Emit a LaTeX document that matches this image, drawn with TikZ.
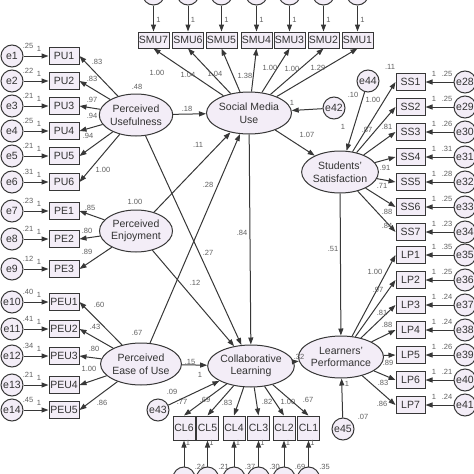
\documentclass[tikz,border=0pt]{standalone}
\usepackage{fontspec}
\setmainfont{Liberation Sans}
\usetikzlibrary{arrows.meta, shapes.geometric}
\definecolor{semfill}{RGB}{243,237,247}
\definecolor{semline}{RGB}{55,55,55}
\definecolor{semtext}{RGB}{95,95,95}
\tikzset{
    latent/.style = {ellipse, draw=semline, fill=semfill, line width=1pt, minimum width=73pt, minimum height=42pt, inner sep=0pt, align=center, font=\fontsize{10.5}{12.5}\selectfont, text=black!80},
    indicator/.style = {rectangle, draw=semline, fill=semfill, line width=1pt, minimum width=30pt, minimum height=17pt, inner sep=0.5pt, font=\fontsize{10.5}{12}\selectfont, text=black!80},
    clbox/.style = {indicator, minimum width=22pt, minimum height=24pt},
    errterm/.style = {circle, draw=semline, fill=semfill, line width=1pt, minimum size=22pt, inner sep=0pt, font=\fontsize{10.5}{12}\selectfont, text=black!80},
    coef/.style = {font=\fontsize{7.5}{8}\selectfont, text=semtext, inner sep=0pt},
    arrow/.style = {semline, line width=1pt, -{Triangle[length=7pt,width=5pt]}}
}

\begin{document}
\begin{tikzpicture}[x=1pt, y=-1pt]
\useasboundingbox (0,0) rectangle (474,474);
\clip (0,0) rectangle (474,474);

% ---- Latent variables ----
\node[latent] (pu)  at (136,115) {Perceived\\Usefulness};
\node[latent] (pe)  at (136,231) {Perceived\\Enjoyment};
\node[latent] (peu) at (141,364) {Perceived\\Ease of Use};
\node[latent] (smu) at (249,113) {Social Media\\Use};
\node[latent] (ss)  at (340,172) {Students'\\Satisfaction};
\node[latent] (cl)  at (251,366) {Collaborative\\Learning};
\node[latent] (lp)  at (341,357) {Learners'\\Performance};

\node[coef] at (137,87)  {.48};
\node[coef] at (135,202) {1.00};
\node[coef] at (137,333) {.67};

% ---- Left indicators with error terms ----
\foreach \n/\t/\y/\e/\v in {pu1/PU1/56/e1/.25, pu2/PU2/81/e2/.22, pu3/PU3/106/e3/.21,
    pu4/PU4/131/e4/.25, pu5/PU5/156/e5/.21, pu6/PU6/182/e6/.31,
    pe1/PE1/211/e7/.23, pe2/PE2/239/e8/.21, pe3/PE3/269/e9/.12,
    peu1/PEU1/302/e10/.40, peu2/PEU2/329/e11/.41, peu3/PEU3/356/e12/.34,
    peu4/PEU4/385/e13/.21, peu5/PEU5/410/e14/.45} {
  \node[indicator] (\n) at (64,\y) {\t};
  \node[errterm] (\e) at (12,\y) {\e};
  \draw[arrow] (\e) -- (\n) node[coef] at (39,\y-7) {1};
  \node[coef] at (28,\y-10) {\v};
}

% ---- Social media use indicators (top) ----
\foreach \n/\t/\x in {smu7/SMU7/153.5, smu6/SMU6/188, smu5/SMU5/221.5, smu4/SMU4/256.5,
    smu3/SMU3/289.5, smu2/SMU2/323.5, smu1/SMU1/357.5} {
  \node[indicator, minimum width=31pt, minimum height=16pt] (\n) at (\x,40) {\t};
  \node[errterm] (\n err) at (\x,-6) {};
  \draw[arrow] (\n err) -- (\n) node[coef] at (\x+5,20) {1};
}

% ---- Students' satisfaction and learners' performance indicators (right) ----
\foreach \n/\t/\y/\e/\v in {ss1/SS1/82/e28/.25, ss2/SS2/107/e29/.25, ss3/SS3/132/e30/.26,
    ss4/SS4/157/e31/.31, ss5/SS5/182/e32/.28, ss6/SS6/207/e33/.25, ss7/SS7/232/e34/.23,
    lp1/LP1/255/e35/.35, lp2/LP2/280/e36/.25, lp3/LP3/305/e37/.24, lp4/LP4/330/e38/.24,
    lp5/LP5/355/e39/.26, lp6/LP6/380/e40/.21, lp7/LP7/405/e41/.24} {
  \node[indicator, minimum width=29pt] (\n) at (410.5,\y) {\t};
  \node[errterm] (\e) at (465,\y) {\e};
  \draw[arrow] (\e) -- (\n) node[coef] at (434,\y-8) {1};
  \node[coef] at (447,\y-8) {\v};
}

% ---- Collaborative learning indicators (bottom) ----
\foreach \n/\t/\x/\v in {cl6/CL6/184/.24, cl5/CL5/207.5/.21, cl4/CL4/234/.37,
    cl3/CL3/258.5/.30, cl2/CL2/284/.69, cl1/CL1/308.5/.35} {
  \node[clbox] (\n) at (\x,428) {\t};
  \node[errterm] (\n err) at (\x,478) {};
  \draw[arrow] (\n err) -- (\n) node[coef] at (\x+4,443) {1};
  \node[coef] at (\x+16,467) {\v};
}

% ---- Structural error terms ----
\node[errterm] (e42) at (334,108) {e42};
\node[errterm] (e44) at (368,81)  {e44};
\node[errterm] (e43) at (158,410) {e43};
\node[errterm] (e45) at (343,429) {e45};

% ---- Loadings ----
\foreach \n/\l/\lx/\ly in {pu1/.83/97/62, pu2/.83/92/79, pu3/.97/92/100,
    pu4/.94/92/116, pu5/.94/88/136, pu6/1.00/103/170}
  \draw[arrow] (pu) -- (\n.east) node[coef] at (\lx,\ly) {\l};
\foreach \n/\l/\lx/\ly in {pe1/.85/90/208, pe2/.80/87/231, pe3/.89/87/252}
  \draw[arrow] (pe) -- (\n.east) node[coef] at (\lx,\ly) {\l};
\foreach \n/\l/\lx/\ly in {peu1/.60/99/305, peu2/.43/95/327, peu3/.80/94/349,
    peu4/1.00/89/369, peu5/.86/102/403}
  \draw[arrow] (peu) -- (\n.east) node[coef] at (\lx,\ly) {\l};
\foreach \n/\l/\lx/\ly in {smu7/1.00/157/73, smu6/1.04/188/75, smu5/1.04/215/74,
    smu4/1.38/245/76, smu3/1.00/270/68, smu2/1.00/292/69, smu1/1.29/318/68}
  \draw[arrow] (smu) -- (\n.south) node[coef] at (\lx,\ly) {\l};
\foreach \n/\l/\lx/\ly in {ss1/1.00/373/100, ss2/.87/367/130, ss3/.81/387/127,
    ss4/.91/385/168, ss5/.71/382/186, ss6/.88/387/212, ss7/.84/387/226}
  \draw[arrow] (ss) -- (\n.west) node[coef] at (\lx,\ly) {\l};
\foreach \n/\l/\lx/\ly in {lp1/1.00/375/272, lp2/.97/378/290, lp3/.81/382/313,
    lp4/.88/387/325, lp5/.89/388/363, lp6/.83/383/383, lp7/.86/382/404}
  \draw[arrow] (lp) -- (\n.west) node[coef] at (\lx,\ly) {\l};
\foreach \n/\l/\lx/\ly in {cl6/.77/182/402, cl5/.69/205/400, cl4/.83/227/403,
    cl3/.82/267/402, cl2/1.00/288/402, cl1/.67/308/400}
  \draw[arrow] (cl) -- (\n.north) node[coef] at (\lx,\ly) {\l};

% ---- Structural paths ----
\draw[arrow] (pu) -- (smu) node[coef] at (187,109) {.18};
\draw[arrow] (pe) -- (smu) node[coef] at (198,145) {.11};
\draw[arrow] (peu) -- (smu) node[coef] at (208,185) {.28};
\draw[arrow] (pu) -- (cl) node[coef] at (208,253) {.27};
\draw[arrow] (pe) -- (cl) node[coef] at (195,283) {.12};
\draw[arrow] (peu) -- (cl) node[coef] at (190,362) {.15};
\draw[arrow] (smu) -- (cl) node[coef] at (242,233) {.84};
\draw[arrow] (smu) -- (ss) node[coef] at (307,135) {1.07};
\draw[arrow] (ss) -- (lp) node[coef] at (333,249) {.51};
\draw[arrow] (cl) -- (lp) node[coef] at (299,357) {.32};

% ---- Disturbances ----
\draw[arrow] (e42) -- (smu) node[coef] at (292,103) {1};
\draw[arrow] (e44) -- (ss) node[coef] at (343,127) {1};
\node[coef] at (353,95) {.10};
\node[coef] at (390,67) {.11};
\draw[arrow] (e43) -- (cl) node[coef] at (200,375) {1};
\node[coef] at (172,392) {.09};
\draw[arrow] (e45) -- (lp) node[coef] at (347,384) {1};
\node[coef] at (363,417) {.07};

\end{tikzpicture}
\end{document}
